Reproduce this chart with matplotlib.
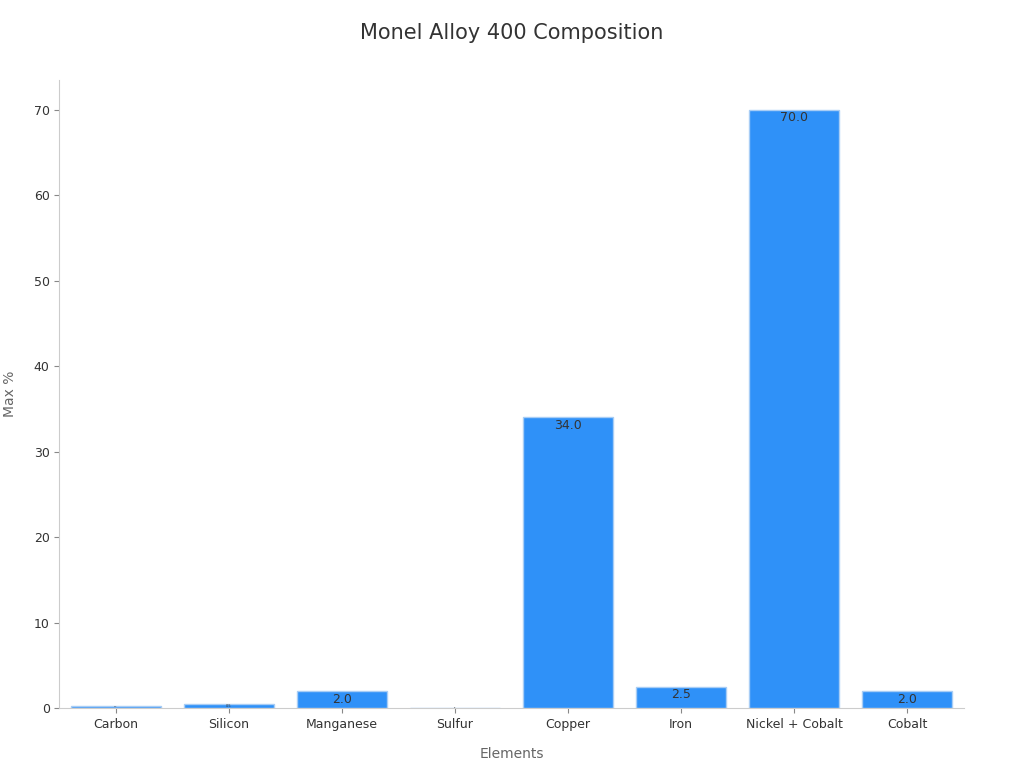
import matplotlib
matplotlib.use("Agg")
import matplotlib.pyplot as plt

elements = ["Carbon", "Silicon", "Manganese", "Sulfur", "Copper", "Iron", "Nickel + Cobalt", "Cobalt"]
max_pct = [0.3, 0.5, 2.0, 0.024, 34.0, 2.5, 70.0, 2.0]

fig = plt.figure(figsize=(10.24, 7.68), dpi=100)
ax = fig.add_axes([0.058, 0.078, 0.883, 0.818])
bars = ax.bar(elements, max_pct, width=0.8, color="#2f91f8", edgecolor="#a8cdf5", linewidth=1)
for b, v in zip(bars, max_pct):
    px = v / 73.5 * 628
    fs = min(9, max(0.5, px * 0.6))
    ax.text(b.get_x() + b.get_width() / 2, v - min(v * 0.5, 73.5 * 9 / 628 * 0.9) , f"{v:.1f}",
            ha="center", va="center", fontsize=fs, color="#333333")
ax.set_xlim(-0.5, 7.5)
ax.set_ylim(0, 73.5)
ax.set_yticks(range(0, 71, 10))
for s in ["top", "right"]:
    ax.spines[s].set_visible(False)
for s in ["left", "bottom"]:
    ax.spines[s].set_color("#cccccc")
ax.tick_params(colors="#333333", labelsize=9)
ax.tick_params(axis="both", color="#888888")
ax.set_xlabel("Elements", fontsize=10, color="#666666", labelpad=12)
ax.set_ylabel("Max %", fontsize=10, color="#666666", labelpad=12)
fig.suptitle("Monel Alloy 400 Composition", fontsize=15, color="#333333", y=0.97)
fig.savefig("out.png")
